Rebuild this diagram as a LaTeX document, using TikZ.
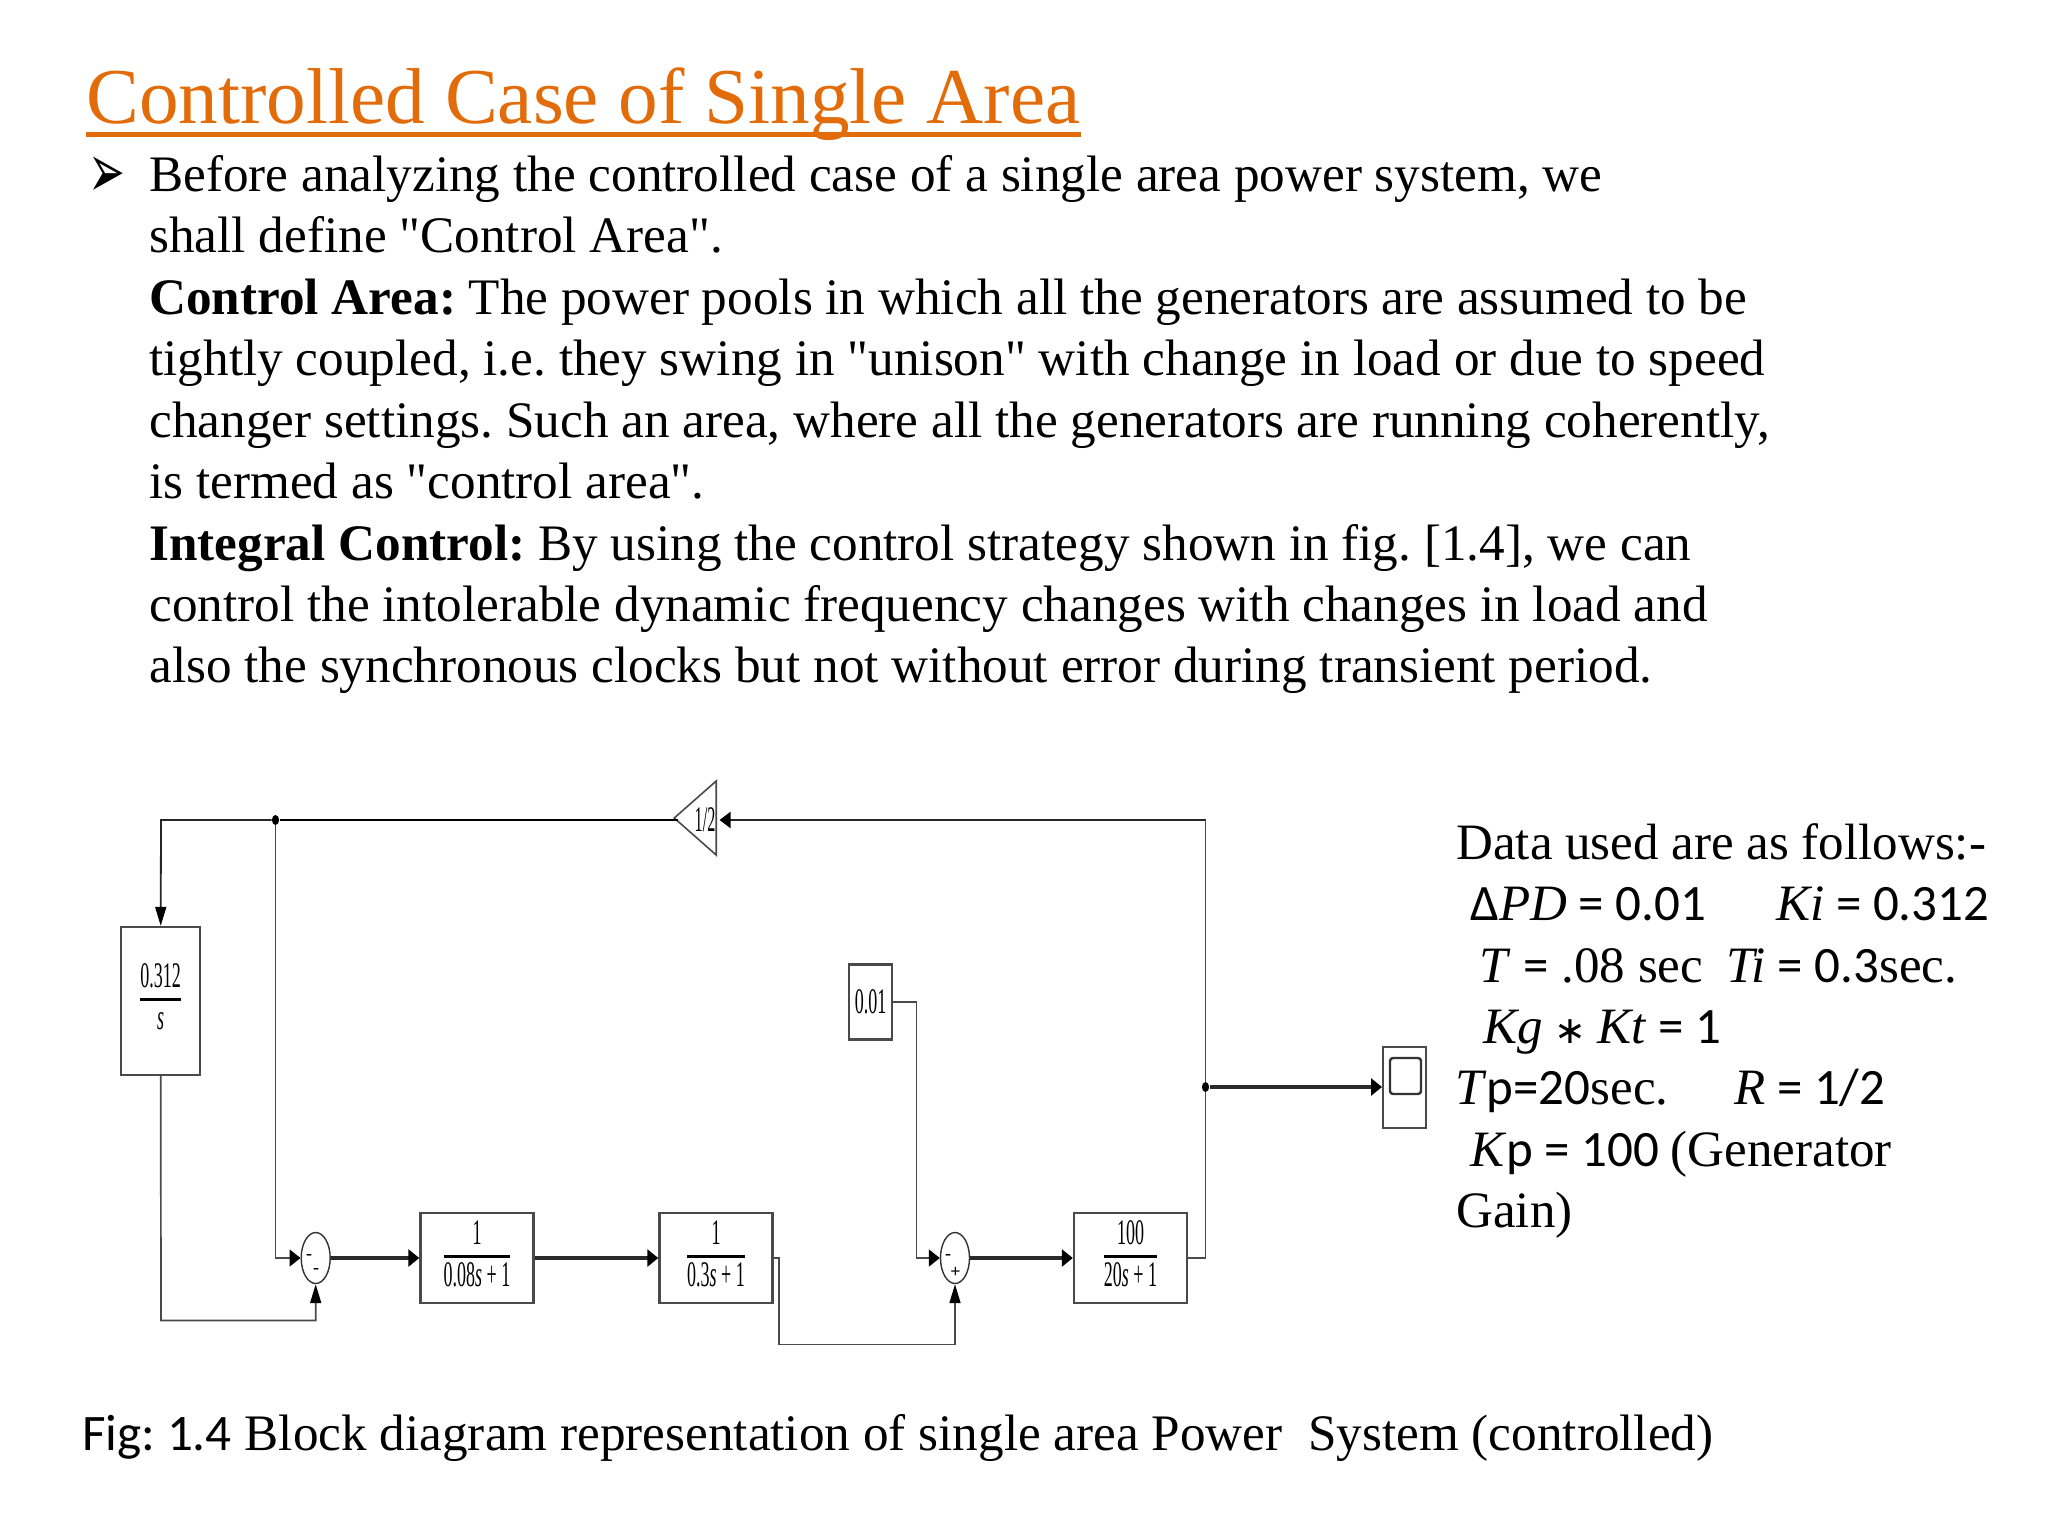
\documentclass[tikz,border=0pt]{standalone}
\usepackage{fontspec}
\usepackage{graphicx}
\usepackage{array}
\setmainfont{Liberation Serif}[Ligatures=TeXOff]
\newfontfamily\calb{Carlito}
\newfontfamily\dejav{DejaVu Sans}
\usetikzlibrary{arrows.meta,shapes.geometric,positioning}
\definecolor{titleor}{HTML}{E36C0A}
\definecolor{wire}{HTML}{2A2A2A}
\definecolor{thinw}{HTML}{4A4A4A}
\setlength{\arrayrulewidth}{1.5pt}
\frenchspacing
\newcommand\frc[3][.5]{\raisebox{-2.5pt}{\scalebox{#1}[1]{\fontsize{18}{18}\selectfont\begin{tabular}{@{}c@{}}#2\\[0pt]\hline\rule{0pt}{14pt}#3\end{tabular}}}}
\newcommand\iv[1]{\textit{\rmfamily #1}}
\newcommand\cm{\calb\fontsize{25.5}{30}\selectfont}
\newcommand\tm{\rmfamily\fontsize{25.5}{30}\selectfont}
\tikzset{
 bodyline/.style={anchor=base west,inner sep=0,font=\fontsize{25.6}{30}\selectfont},
 dataline/.style={anchor=base west,inner sep=0,font=\fontsize{25.5}{30}\selectfont},
 blockbox/.style={draw=thinw,line width=1.2pt,fill=white,inner sep=0,minimum width=56.5pt,minimum height=45pt},
 sumnode/.style={draw=black!80,line width=.7pt,ellipse,inner sep=0,minimum width=14.5pt,minimum height=25.5pt},
 signlabel/.style={inner sep=0,font=\bfseries\fontsize{9}{10}\selectfont},
 junction/.style={fill=black,ellipse,inner sep=0,minimum width=3.6pt,minimum height=5pt},
 strongwire/.style={draw=wire,line width=1.7pt},
 lightwire/.style={draw=thinw,line width=.85pt},
 darkwire/.style={draw=black!85,line width=.9pt},
 harrow/.style={-{Triangle[length=5.5pt,width=8.5pt,color=black,fill=black]}},
 varrow/.style={-{Triangle[length=9.5pt,width=5.5pt,color=black,fill=black]}},
}
\begin{document}
\begin{tikzpicture}[x=0.5pt,y=-0.5pt]
\useasboundingbox (0,0) rectangle (2048,1536);
% title
\node[anchor=base west,inner sep=0,text=titleor,font=\fontsize{39.6}{46}\selectfont] (title) at (86,123.5) {Controlled Case of Single Area};
\draw[titleor,line width=2.5pt] ([yshift=-5.5pt]title.base west) -- ([yshift=-5.5pt]title.base east);
% bullet
\node[anchor=base west,inner sep=0,font=\dejav\fontsize{20}{24}\selectfont] (bullet) at (88,197) {\scalebox{1.1}[1.9]{➢}};
\node[bodyline] (l1) at (149,191) {Before analyzing the controlled case of a single area power system, we};
\node[bodyline] (l2) at (149,252) {shall define "Control Area".};
\node[bodyline] (l3) at (149,314) {\textbf{Control Area:} The power pools in which all the generators are assumed to be};
\node[bodyline] (l4) at (149,375) {tightly coupled, i.e. they swing in "unison" with change in load or due to speed};
\node[bodyline] (l5) at (149,437) {changer settings. Such an area, where all the generators are running coherently,};
\node[bodyline] (l6) at (149,498) {is termed as "control area".};
\node[bodyline] (l7) at (149,560) {\textbf{Integral Control:} By using the control strategy shown in fig. [1.4], we can};
\node[bodyline] (l8) at (149,621) {control the intolerable dynamic frequency changes with changes in load and};
\node[bodyline] (l9) at (149,682) {also the synchronous clocks but not without error during transient period.};
% diagram blocks
\node[blockbox,minimum width=39.5pt,minimum height=74pt] (ki) at (160.7,1001) {\frc{0.312}{\iv{s}}};
\node[blockbox] (b1) at (477,1258) {\frc{1}{0.08\iv{s} + 1}};
\node[blockbox] (b2) at (716,1258) {\frc{1}{0.3\iv{s} + 1}};
\node[blockbox] (b3) at (1130.5,1258) {\frc{100}{20\iv{s} + 1}};
\node[blockbox,minimum width=21.5pt,minimum height=37.5pt] (dist) at (870.5,1002) {\scalebox{.5}[1]{\fontsize{18}{18}\selectfont 0.01}};
\node[sumnode] (s1) at (315.7,1258) {};
\node[sumnode] (s2) at (955,1258) {};
\node[signlabel] (s1a) at (309,1257) {-};
\node[signlabel] (s1b) at (316,1271) {-};
\node[signlabel] (s2a) at (948,1257) {-};
\node[signlabel] (s2b) at (955.5,1272) {+};
\node[draw=thinw,line width=.8pt,isosceles triangle,isosceles triangle stretches,shape border rotate=180,inner sep=0,minimum width=37pt,minimum height=21pt] (gain) at (699.5,818) {};
\node[inner sep=0] (gainl) at (705,820) {\scalebox{.45}[1]{\fontsize{18}{18}\selectfont 1/2}};
\node[draw=thinw,line width=1pt,minimum width=21.5pt,minimum height=40.5pt,inner sep=0] (scope) at (1404.5,1087) {};
\node[draw=black!80,line width=1.2pt,rounded corners=1.5pt,minimum width=15.5pt,minimum height=18pt,inner sep=0] (scopein) at (1405.5,1076) {};
\node[junction] (j1) at (275.5,820) {};
\node[junction] (j2) at (1205.5,1087) {};
% corners
\coordinate (c1) at (161,820);
\coordinate (c2) at (1205.5,820);
\coordinate (c3) at (1205.5,1258);
\coordinate (c4) at (161,1320.5);
\coordinate (c5) at (315.7,1320.5);
\coordinate (c6) at (275.5,1258);
\coordinate (c7) at (779,1258);
\coordinate (c8) at (779,1344.5);
\coordinate (c9) at (955,1344.5);
\coordinate (c10) at (916.5,1002);
\coordinate (c11) at (916.5,1258);
\coordinate (gi) at (719.5,820);
\coordinate (ga) at (677.5,820);
% connectors
\draw[darkwire,-{Triangle[length=5.5pt,width=8pt,color=black,fill=black]}] (c2) -- (gi);
\draw[lightwire] (b3.east) -- (c3) -- (j2) -- (c2);
\draw[strongwire,line width=1.1pt,draw=black] (ga) -- (j1);
\draw[darkwire,varrow] (j1) -- (c1) -- (ki.north);
\draw[lightwire,harrow] (j1) -- (c6) -- (s1.west);
\draw[lightwire,varrow] (ki.south) -- (c4) -- (c5) -- (s1.south);
\draw[strongwire,harrow] (s1.east) -- (b1.west);
\draw[strongwire,harrow] (b1.east) -- (b2.west);
\draw[lightwire] (b2.east) -- (c7) -- (c8);
\draw[lightwire,varrow] (c8) -- (c9) -- (s2.south);
\draw[lightwire,harrow] (dist.east) -- (c10) -- (c11) -- (s2.west);
\draw[strongwire,harrow] (s2.east) -- (b3.west);
\draw[strongwire,harrow] (j2) -- (scope.west);
% data
\node[dataline] (d1) at (1456,859.5) {Data used are as follows:-};
\node[dataline] (d2) at (1470,920) {\cm Δ\iv{PD} = 0.01};
\node[dataline] (d2b) at (1776,920) {\cm \iv{Ki} = 0.312};
\node[dataline] (d3) at (1479,982) {\iv{T} {\cm =} .08 sec};
\node[dataline] (d3b) at (1726,982) {\cm \iv{Ti} = 0.3{\tm sec.}};
\node[dataline] (d4) at (1483,1043) {\cm \iv{Kg} {\dejav\fontsize{19}{24}\selectfont ∗} \iv{Kt} = 1};
\node[dataline] (d5) at (1455,1104) {\cm \iv{T}p=20{\tm sec.}};
\node[dataline] (d5b) at (1734,1104) {\cm \iv{R} = 1/2};
\node[dataline] (d6) at (1470,1166) {\cm \iv{K}p = 100 {\tm (Generator}};
\node[dataline] (d7) at (1456,1227.5) {Gain)};
% caption
\node[dataline,font=\fontsize{25.6}{30}\selectfont] (cap) at (82,1450) {{\calb Fig: 1.4} Block diagram representation of single area Power\ \ System (controlled)};
\end{tikzpicture}
\end{document}
